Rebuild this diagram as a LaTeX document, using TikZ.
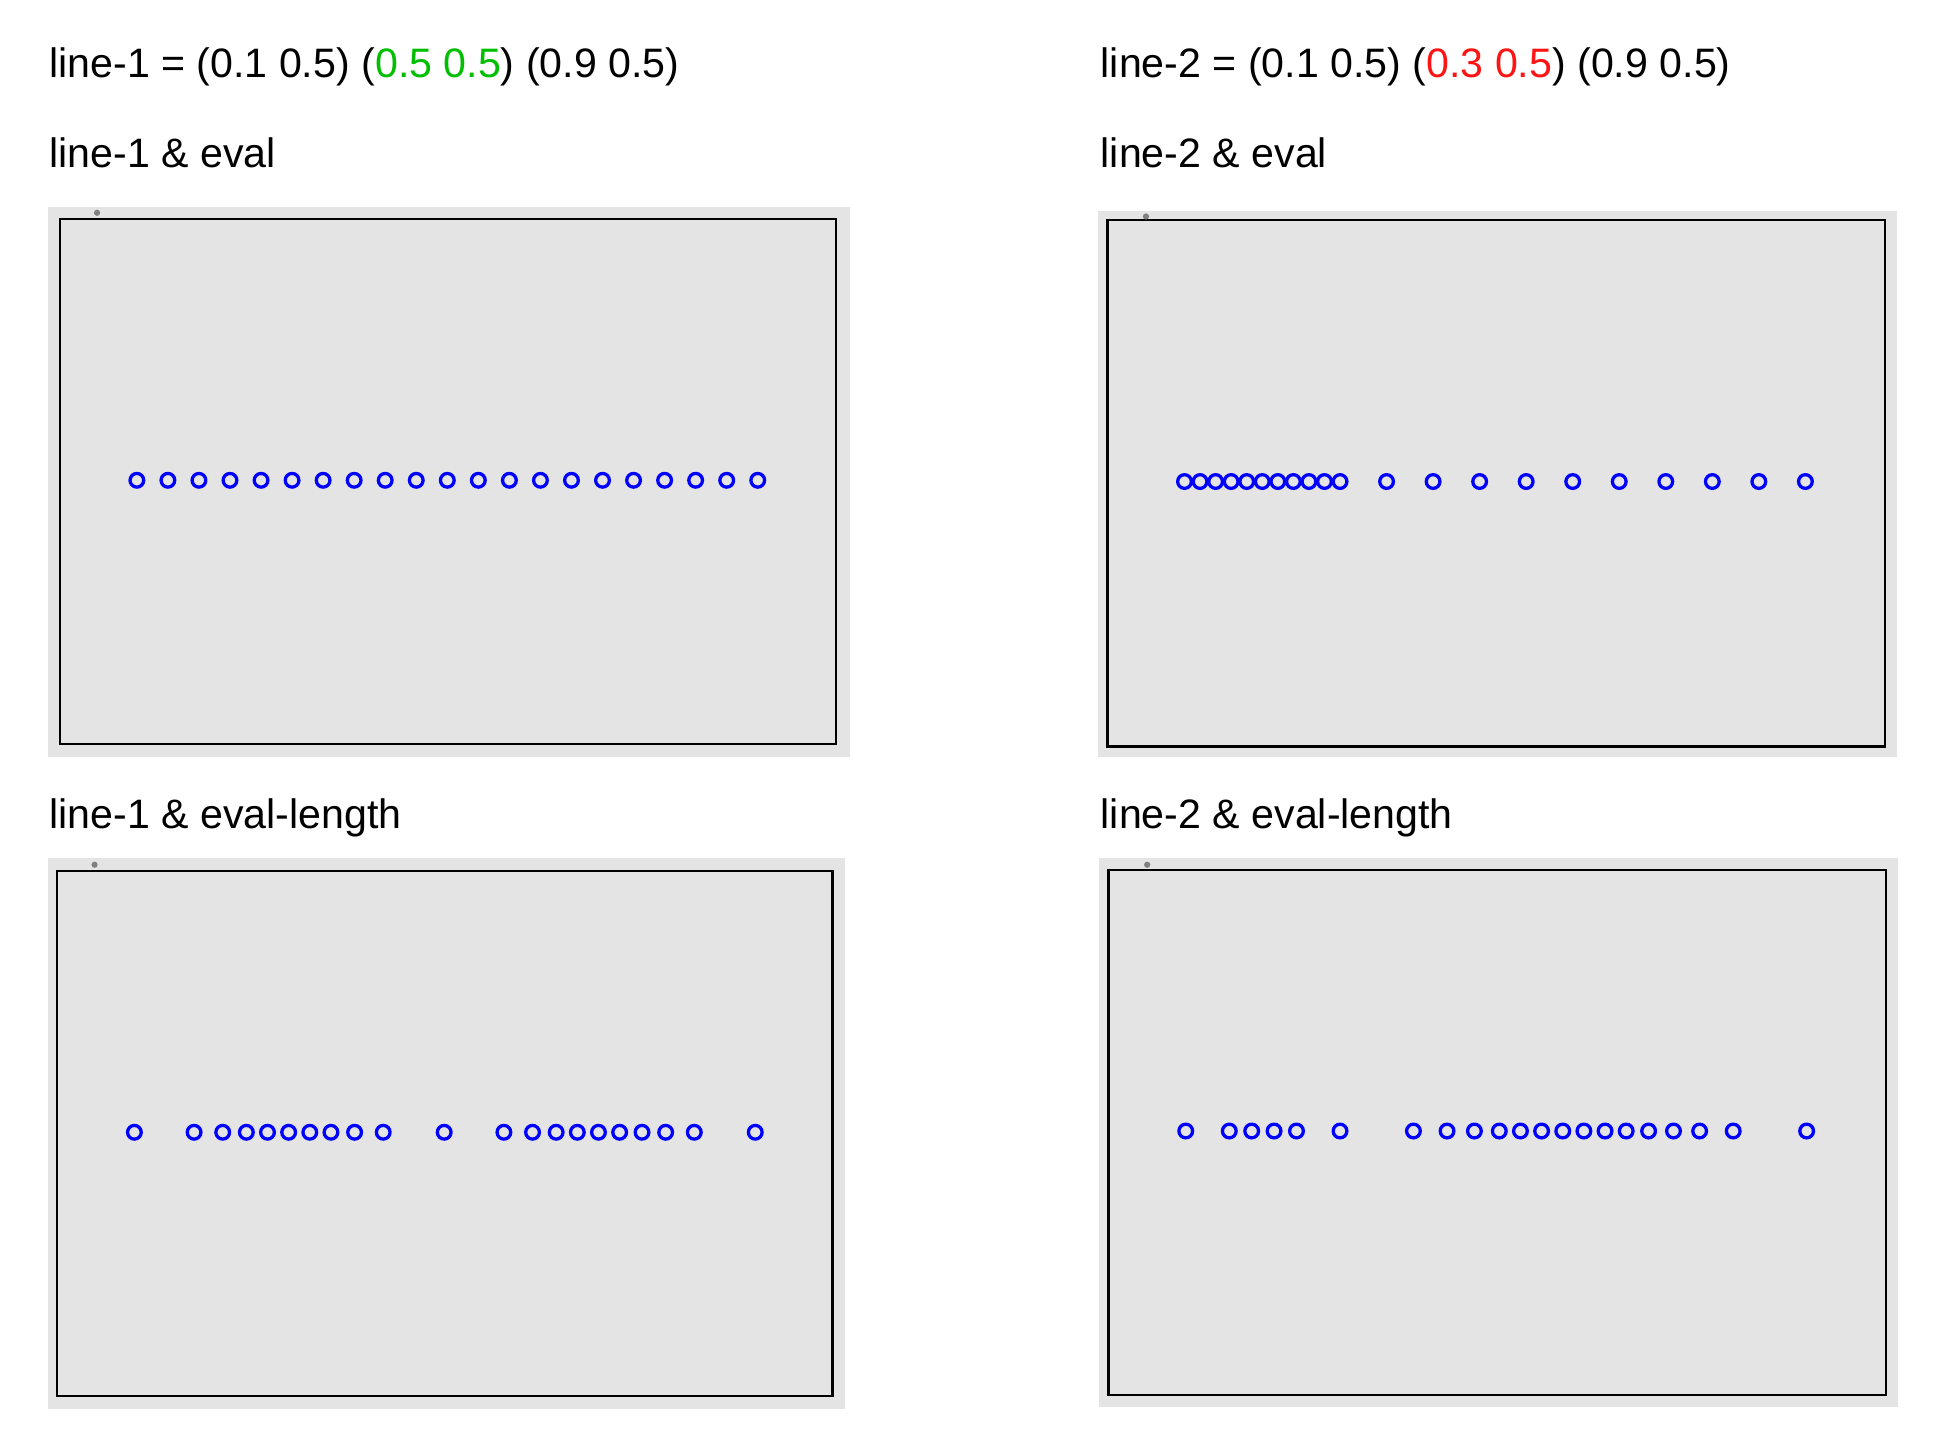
\documentclass[tikz,border=0pt]{standalone}
\usepackage{fontspec}
\setmainfont{Liberation Sans}
\usetikzlibrary{positioning}
\definecolor{ptgreen}{RGB}{0,190,0}
\definecolor{ptred}{RGB}{255,20,20}
\definecolor{ptgray}{RGB}{228,228,228}
\def\lbl{\fontsize{9.4pt}{11pt}\selectfont}

\begin{document}
\begin{tikzpicture}[x=0.01cm,y=-0.01cm,font=\lbl]
	\useasboundingbox (0,0) rectangle (1560,1157);
	\tikzset{frame/.style={draw=ptgray,line width=2pt,fill=ptgray},
		plot/.style={draw=black,line width=0.55pt,fill=ptgray},
		pt/.style={circle,draw=blue,line width=0.75pt,inner sep=0pt,minimum size=0.11cm},
		title/.style={anchor=base west,inner sep=0pt}}
	% headings
	\node [title] at (39,62) (head1) {line-1 = (0.1 0.5) (\textcolor{ptgreen}{0.5 0.5}) (0.9 0.5)};
	\node [title] at (884,62) (head2) {line-2 = (0.1 0.5) (\textcolor{ptred}{0.3 0.5}) (0.9 0.5)};
	\node [title] at (39,135) (t1) {line-1 \& eval};
	\node [title] at (884,135) (t2) {line-2 \& eval};
	\node [title] at (39,666) (t3) {line-1 \& eval-length};
	\node [title] at (884,666) (t4) {line-2 \& eval-length};

	% panels
	\draw [frame] (42,170) rectangle (680,605);
	\draw [plot] (48,176) rectangle (672,598);
	\draw [frame] (886,173) rectangle (1521,605);
	\draw [plot] (890,177) rectangle (1515,600);
	\draw [frame] (42,693) rectangle (676,1129);
	\draw [plot] (46,700) rectangle (669,1122);
	\draw [frame] (887,693) rectangle (1522,1127);
	\draw [plot] (891,699) rectangle (1516,1121);
	\foreach \mx/\my in {78/171,921/174,76/695,922/695}
		\fill [gray] (\mx,\my) circle (2.5);

	% points
	\foreach \px in {0,...,20}
		\node [pt] at (110+24.95*\px,386) (a\px) {};
	\foreach \px in {0,...,9}
		\node [pt] at (952+12.5*\px,387) (b\px) {};
	\foreach \px in {0,...,10}
		\node [pt] at (1077+37.4*\px,387) (c\px) {};
	\foreach \px [count=\i] in {108,156,179,198,215,232,249,266,285,308,357,405,428,447,464,481,498,516,535,558,607}
		\node [pt] at (\px,910) (d\i) {};
	\foreach \px [count=\i] in {953,988,1006,1024,1042,1077,1136,1163,1185,1205,1222,1239,1256,1273,1290,1307,1325,1345,1366,1393,1452}
		\node [pt] at (\px,909) (e\i) {};
\end{tikzpicture}
\end{document}
